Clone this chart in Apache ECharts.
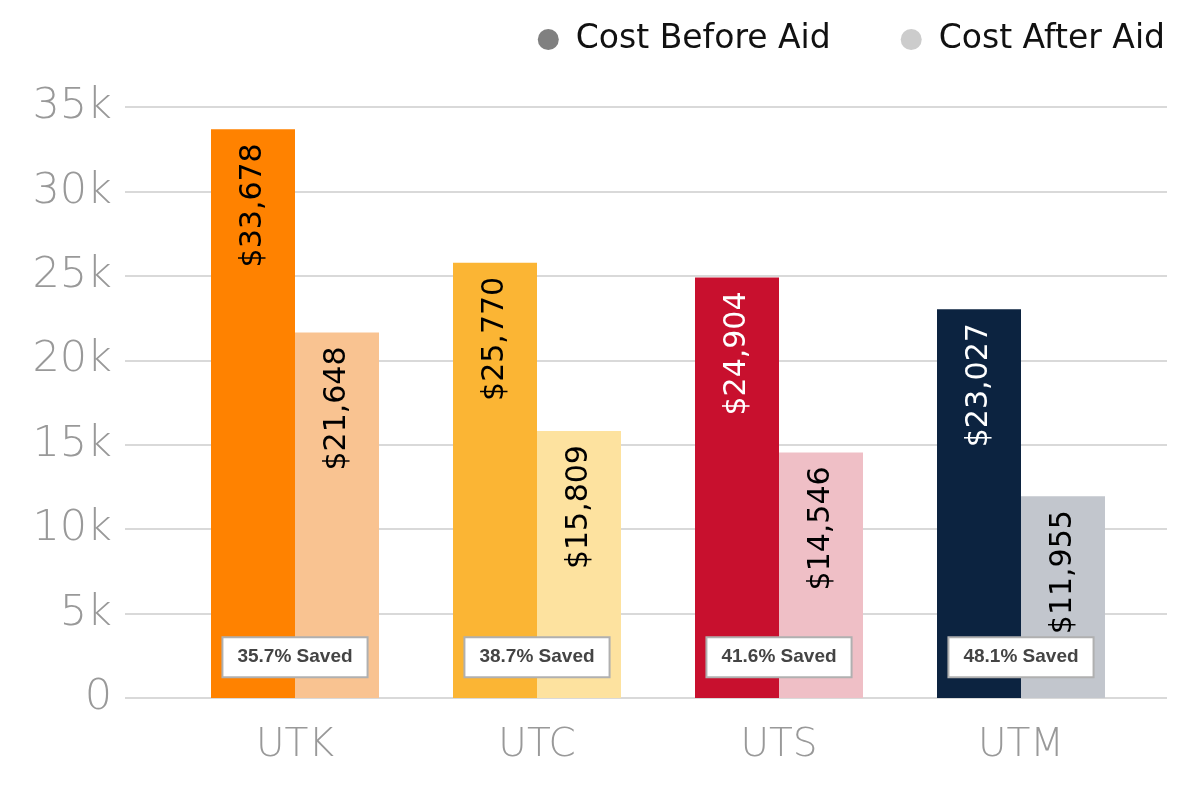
<!DOCTYPE html>
<html>
<head>
<meta charset="utf-8">
<script src="https://cdn.jsdelivr.net/npm/echarts@6/dist/echarts.min.js"></script>
<style>
  html, body { margin: 0; padding: 0; background: #fff; }
  #costChart { width: 1200px; height: 788px; }
</style>
</head>
<body>
<div id="costChart"></div>
<script>
  // data
  var campuses = ['UTK', 'UTC', 'UTS', 'UTM'];
  var costBefore = [33678, 25770, 24904, 23027];
  var costAfter = [21648, 15809, 14546, 11955];
  var yTicks = ['0', '5k', '10k', '15k', '20k', '25k', '30k', '35k'];

  var beforeColors = ['#ff8200', '#fbb534', '#c8102e', '#0c2340'];
  var afterColors = ['#f9c391', '#fde29f', '#efbfc6', '#c2c6cd'];
  var beforeText = ['#000', '#000', '#fff', '#fff'];

  var FONT = 'DejaVu Sans';

  function money(v) {
    return '$' + v.toLocaleString('en-US');
  }

  // percent saved, worked out from the two cost lists
  var savedPct = costBefore.map(function (b, i) {
    return ((b - costAfter[i]) / b * 100).toFixed(1) + '% Saved';
  });

  var chart = echarts.init(document.getElementById('costChart'));

  function barData(values, colors, textColors) {
    return values.map(function (v, i) {
      return {
        value: v,
        itemStyle: { color: colors[i] },
        label: { color: textColors ? textColors[i] : '#000' }
      };
    });
  }

  var barLabel = {
    show: true,
    position: 'insideTop',
    rotate: 90,
    align: 'right',
    verticalAlign: 'middle',
    distance: 14,
    fontFamily: FONT,
    fontSize: 30,
    formatter: function (p) { return money(p.value); }
  };

  chart.setOption({
    animation: false,
    textStyle: { fontFamily: FONT },
    legend: {
      top: 18,
      right: 30,
      icon: 'circle',
      itemWidth: 21,
      itemHeight: 21,
      itemGap: 70,
      textStyle: { fontSize: 33, color: '#111', fontFamily: FONT, padding: [0, 0, 0, 12] },
      data: [
        { name: 'Cost Before Aid', itemStyle: { color: '#808080' } },
        { name: 'Cost After Aid', itemStyle: { color: '#cccccc' } }
      ]
    },
    grid: [
      { left: 125, right: 33, top: 107, bottom: 90 },
      { left: 174, right: 58, top: 107, bottom: 90 }
    ],
    xAxis: [
      { gridIndex: 0, type: 'value', min: 0, max: 1, show: false },
      {
        gridIndex: 1,
        type: 'category',
        data: campuses,
        axisLine: { show: false },
        axisTick: { show: false },
        axisLabel: { color: '#999', fontSize: 39, fontWeight: 200, margin: 28, fontFamily: FONT }
      }
    ],
    yAxis: [
      {
        gridIndex: 0,
        type: 'value',
        min: 0,
        max: 35000,
        interval: 5000,
        axisLine: { show: false },
        axisTick: { show: false },
        splitLine: { lineStyle: { color: '#cccccc', width: 1.5 } },
        axisLabel: {
          color: '#999',
          fontSize: 43,
          fontWeight: 200,
          margin: 13,
          fontFamily: FONT,
          formatter: function (v) { return yTicks[v / 5000]; }
        }
      },
      { gridIndex: 1, type: 'value', min: 0, max: 35000, show: false }
    ],
    series: [
      {
        name: 'Cost Before Aid',
        type: 'bar',
        xAxisIndex: 1,
        yAxisIndex: 1,
        barWidth: 84,
        barGap: '0%',
        label: barLabel,
        data: barData(costBefore, beforeColors, beforeText)
      },
      {
        name: 'Cost After Aid',
        type: 'bar',
        xAxisIndex: 1,
        yAxisIndex: 1,
        barWidth: 84,
        label: barLabel,
        data: barData(costAfter, afterColors)
      },
      {
        name: 'saved',
        type: 'scatter',
        xAxisIndex: 1,
        yAxisIndex: 1,
        symbolSize: 0,
        silent: true,
        z: 10,
        itemStyle: { opacity: 1 },
        label: {
          show: true,
          position: 'inside',
          formatter: function (p) { return savedPct[p.dataIndex]; },
          backgroundColor: '#fff',
          borderColor: '#b0b0b0',
          borderWidth: 2,
          padding: [10, 14, 9, 14],
          color: '#444',
          fontSize: 19,
          fontWeight: 'bold',
          fontFamily: 'Liberation Sans'
        },
        data: campuses.map(function () { return 2420; })
      }
    ]
  });
</script>
</body>
</html>
